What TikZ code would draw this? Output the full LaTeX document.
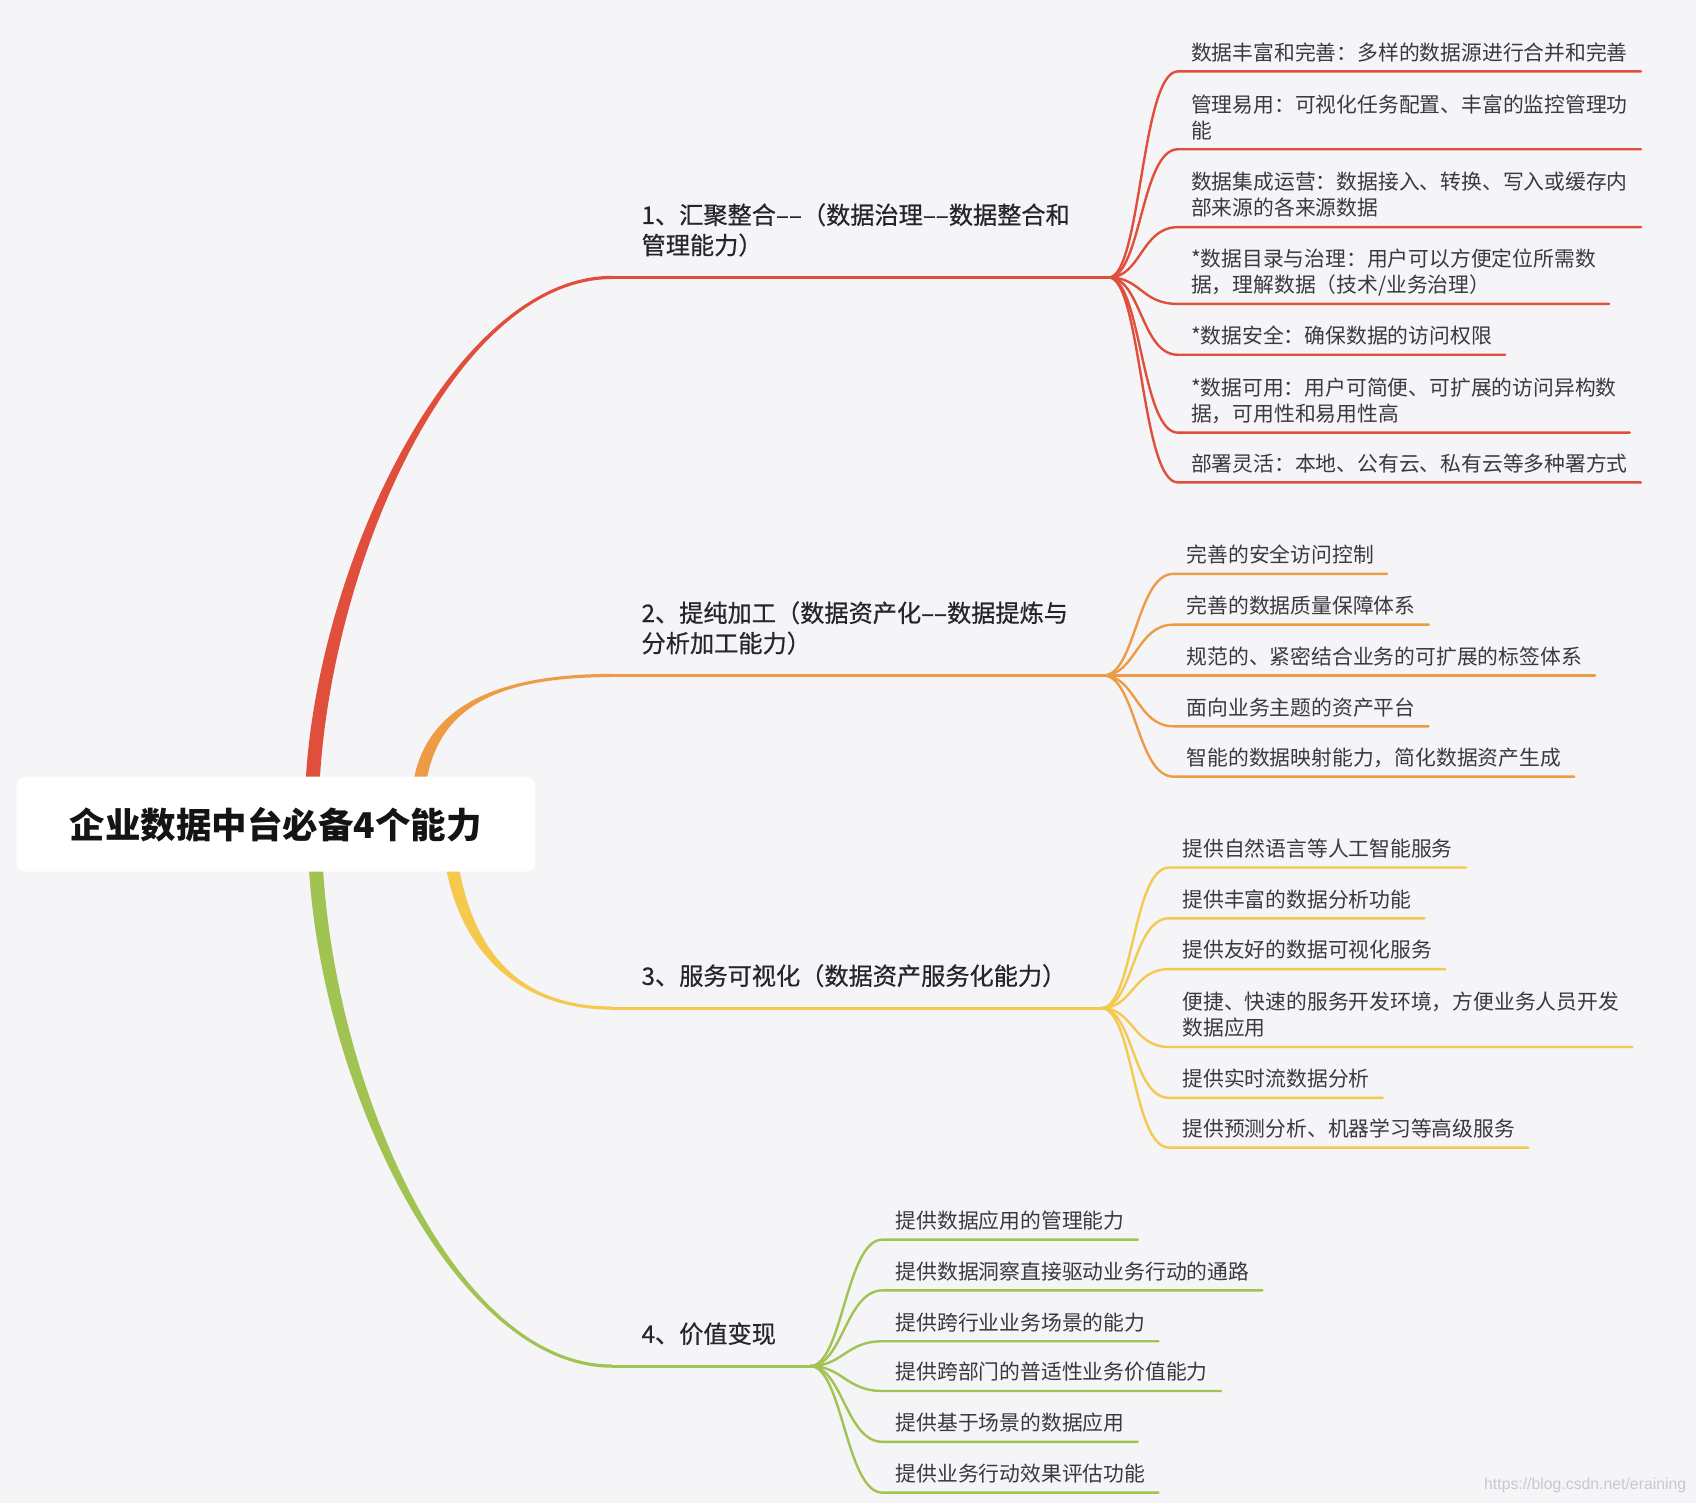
\documentclass[tikz,border=0pt]{standalone}
\usepackage{fontspec}
\setmainfont{Noto Sans CJK SC}
\newfontfamily\labelfont[FakeBold=0.6]{Noto Sans CJK SC}
\newfontfamily\urlfont{Liberation Sans}
\usepackage{tikz}
\usetikzlibrary{calc}
\usetikzlibrary{backgrounds}

\definecolor{bgcol}{RGB}{245,245,248}
\definecolor{redb}{RGB}{224,78,60}
\definecolor{orangeb}{RGB}{237,155,68}
\definecolor{yellowb}{RGB}{245,200,78}
\definecolor{greenb}{RGB}{160,195,82}
\definecolor{leaftext}{RGB}{58,58,62}
\definecolor{labeltext}{RGB}{38,38,42}
\definecolor{wmgray}{RGB}{200,200,206}

\tikzset{
  leaf/.style={anchor=south west, inner xsep=13pt, inner ysep=7pt, align=left,
    font=\fontsize{20.8pt}{26pt}\selectfont, text=leaftext,
    execute at end node={\rule[-4pt]{0pt}{4pt}}},
  branchlabel/.style={anchor=south west, inner xsep=0pt, inner ysep=19pt, align=left,
    font=\labelfont\fontsize{24.2pt}{30.3pt}\selectfont, text=labeltext,
    execute at end node={\rule[-4pt]{0pt}{4pt}}},
  rootbox/.style={fill=white, rounded corners=9pt, minimum width=519pt, minimum height=95pt,
    font=\bfseries\fontsize{35.5pt}{40pt}\selectfont, text=black!92},
  fan/.style={line width=2.4pt, line cap=round},
  stem/.style={line width=3pt},
}

\begin{document}
\begin{tikzpicture}[x=1.082pt,y=-1.082pt]
\useasboundingbox (0,0) rectangle (1568,1390);

\node[rootbox] (root) at (255,762) {企业数据中台必备4个能力};

\coordinate (s1) at ($(root.north west)+(274,6)$);
\coordinate (s2) at ($(root.north west)+(373,6)$);
\coordinate (s3) at ($(root.south west)+(403,-6)$);
\coordinate (s4) at ($(root.south west)+(277,-6)$);
\coordinate (e1) at (566,256.5);  \coordinate (f1) at (1025,256.5);
\coordinate (e2) at (566,624.5);  \coordinate (f2) at (1020,624.5);
\coordinate (e3) at (566,932);    \coordinate (f3) at (1018,932);
\coordinate (e4) at (566,1263);   \coordinate (f4) at (749,1263);

\node[branchlabel] (t1) at ($(e1)+(27,0)$) {1、汇聚整合––（数据治理––数据整合和\\管理能力）};
\node[branchlabel] (t2) at ($(e2)+(27,0)$) {2、提纯加工（数据资产化––数据提炼与\\分析加工能力）};
\node[branchlabel] (t3) at ($(e3)+(27,0)$) {3、服务可视化（数据资产服务化能力）};
\node[branchlabel] (t4) at ($(e4)+(27,0)$) {4、价值变现};

\node[leaf] (a1) at (1089,66) {数据丰富和完善：多样的数据源进行合并和完善};
\node[leaf] (a2) at (1089,138) {管理易用：可视化任务配置、丰富的监控管理功\\能};
\node[leaf] (a3) at (1089,210) {数据集成运营：数据接入、转换、写入或缓存内\\部来源的各来源数据};
\node[leaf] (a4) at (1089,281) {*数据目录与治理：用户可以方便定位所需数\\据，理解数据（技术/业务治理）};
\node[leaf] (a5) at (1089,328) {*数据安全：确保数据的访问权限};
\node[leaf] (a6) at (1089,400) {*数据可用：用户可简便、可扩展的访问异构数\\据，可用性和易用性高};
\node[leaf] (a7) at (1089,446) {部署灵活：本地、公有云、私有云等多种署方式};

\node[leaf] (b1) at (1085,530.5) {完善的安全访问控制};
\node[leaf] (b2) at (1085,577.5) {完善的数据质量保障体系};
\node[leaf] (b3) at (1085,624.5) {规范的、紧密结合业务的可扩展的标签体系};
\node[leaf] (b4) at (1085,671.5) {面向业务主题的资产平台};
\node[leaf] (b5) at (1085,718) {智能的数据映射能力，简化数据资产生成};

\node[leaf] (c1) at (1081,802) {提供自然语言等人工智能服务};
\node[leaf] (c2) at (1081,849) {提供丰富的数据分析功能};
\node[leaf] (c3) at (1081,896) {提供友好的数据可视化服务};
\node[leaf] (c4) at (1081,968) {便捷、快速的服务开发环境，方便业务人员开发\\数据应用};
\node[leaf] (c5) at (1081,1015) {提供实时流数据分析};
\node[leaf] (c6) at (1081,1061) {提供预测分析、机器学习等高级服务};

\node[leaf] (d1) at (816,1146) {提供数据应用的管理能力};
\node[leaf] (d2) at (816,1193) {提供数据洞察直接驱动业务行动的通路};
\node[leaf] (d3) at (816,1240) {提供跨行业业务场景的能力};
\node[leaf] (d4) at (816,1286) {提供跨部门的普适性业务价值能力};
\node[leaf] (d5) at (816,1333) {提供基于场景的数据应用};
\node[leaf] (d6) at (816,1380) {提供业务行动效果评估功能};

\node[anchor=west, inner sep=0pt, font=\urlfont\fontsize{15.8pt}{18pt}\selectfont, text=wmgray] (wm) at (1372,1373.5) {https://blog.csdn.net/eraining};

% branches from the root, tapered, behind the root box
\begin{scope}[on background layer]
\fill[bgcol] (0,0) rectangle (1568,1390);
\fill[redb] ($(s1)+(-6.5,0)$) .. controls ($(s1)+(4.5,-204)$) and ($(e1)+(-146,-1.5)$) .. ($(e1)+(0,-1.5)$)
  -- ($(e1)+(0,1.5)$) .. controls ($(e1)+(-146,1.5)$) and ($(s1)+(17.5,-204)$) .. ($(s1)+(6.5,0)$) -- cycle;
\fill[orangeb] ($(s2)+(-6,0)$) .. controls ($(s2)+(6,-74)$) and ($(e2)+(-101,-1.5)$) .. ($(e2)+(0,-1.5)$)
  -- ($(e2)+(0,1.5)$) .. controls ($(e2)+(-101,1.5)$) and ($(s2)+(18,-74)$) .. ($(s2)+(6,0)$) -- cycle;
\fill[yellowb] ($(s3)+(-6,0)$) .. controls ($(s3)+(8,80)$) and ($(e3)+(-86,1.5)$) .. ($(e3)+(0,1.5)$)
  -- ($(e3)+(0,-1.5)$) .. controls ($(e3)+(-86,-1.5)$) and ($(s3)+(20,80)$) .. ($(s3)+(6,0)$) -- cycle;
\fill[greenb] ($(s4)+(-6.5,0)$) .. controls ($(s4)+(4.5,204)$) and ($(e4)+(-146,1.5)$) .. ($(e4)+(0,1.5)$)
  -- ($(e4)+(0,-1.5)$) .. controls ($(e4)+(-146,-1.5)$) and ($(s4)+(17.5,204)$) .. ($(s4)+(6.5,0)$) -- cycle;
\end{scope}

\draw[stem,redb] (e1) -- (f1);
\draw[stem,orangeb] (e2) -- (f2);
\draw[stem,yellowb] (e3) -- (f3);
\draw[stem,greenb] (e4) -- (f4);

\foreach \i in {1,...,7}
  \draw[fan,redb] (f1) .. controls +(30,0) and +(-34,0) .. (a\i.south west) -- (a\i.south east);
\foreach \i in {1,...,5}
  \draw[fan,orangeb] (f2) .. controls +(30,0) and +(-34,0) .. (b\i.south west) -- (b\i.south east);
\foreach \i in {1,...,6}
  \draw[fan,yellowb] (f3) .. controls +(30,0) and +(-34,0) .. (c\i.south west) -- (c\i.south east);
\foreach \i in {1,...,6}
  \draw[fan,greenb] (f4) .. controls +(30,0) and +(-34,0) .. (d\i.south west) -- (d\i.south east);
\end{tikzpicture}
\end{document}
